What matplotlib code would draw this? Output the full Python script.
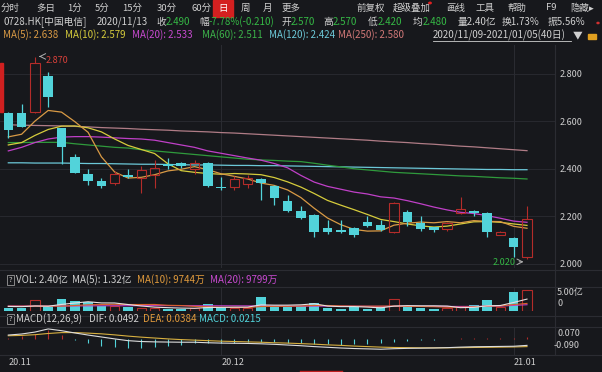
import matplotlib
matplotlib.use('Agg')
import matplotlib.pyplot as plt
from matplotlib.patches import Rectangle, Circle
from matplotlib.lines import Line2D
import numpy as np

plt.rcParams['font.family'] = ['Noto Sans CJK SC', 'DejaVu Sans']

# ---------------- data ----------------
opens = [2.636, 2.636, 2.640, 2.790, 2.570, 2.448, 2.378, 2.349, 2.340, 2.374,
         2.360, 2.375, 2.420, 2.423, 2.400, 2.423, 2.325, 2.325, 2.335, 2.357,
         2.328, 2.266, 2.224, 2.206, 2.153, 2.143, 2.150, 2.175, 2.164, 2.134,
         2.217, 2.174, 2.154, 2.145, 2.214, 2.222, 2.216, 2.122, 2.111, 2.030]
highs = [2.640, 2.672, 2.870, 2.808, 2.570, 2.462, 2.399, 2.360, 2.390, 2.400,
         2.410, 2.437, 2.445, 2.430, 2.435, 2.430, 2.367, 2.370, 2.375, 2.360,
         2.330, 2.290, 2.244, 2.210, 2.185, 2.185, 2.155, 2.203, 2.185, 2.260,
         2.227, 2.200, 2.156, 2.178, 2.283, 2.228, 2.220, 2.140, 2.115, 2.244]
lows = [2.530, 2.574, 2.636, 2.661, 2.420, 2.381, 2.332, 2.319, 2.330, 2.360,
        2.300, 2.320, 2.400, 2.405, 2.380, 2.325, 2.310, 2.310, 2.320, 2.269,
        2.248, 2.220, 2.190, 2.115, 2.126, 2.130, 2.113, 2.155, 2.140, 2.130,
        2.160, 2.140, 2.135, 2.140, 2.210, 2.200, 2.115, 2.120, 2.030, 2.020]
closes = [2.563, 2.574, 2.843, 2.700, 2.490, 2.381, 2.350, 2.328, 2.380, 2.367,
          2.395, 2.405, 2.410, 2.412, 2.425, 2.328, 2.318, 2.355, 2.360, 2.339,
          2.276, 2.224, 2.195, 2.136, 2.136, 2.134, 2.122, 2.161, 2.143, 2.256,
          2.175, 2.146, 2.143, 2.170, 2.231, 2.215, 2.133, 2.135, 2.073, 2.190]

ma5 = [2.534, 2.545, 2.600, 2.645, 2.638, 2.598, 2.553, 2.450, 2.386, 2.361,
       2.364, 2.375, 2.391, 2.398, 2.409, 2.396, 2.379, 2.368, 2.357, 2.340,
       2.330, 2.311, 2.279, 2.234, 2.193, 2.165, 2.145, 2.138, 2.139, 2.163,
       2.171, 2.176, 2.173, 2.178, 2.173, 2.182, 2.179, 2.178, 2.158, 2.150]
ma10 = [2.500, 2.510, 2.540, 2.565, 2.579, 2.580, 2.572, 2.555, 2.525, 2.498,
        2.481, 2.464, 2.421, 2.392, 2.385, 2.380, 2.377, 2.380, 2.378, 2.375,
        2.363, 2.345, 2.323, 2.296, 2.267, 2.247, 2.228, 2.208, 2.187, 2.178,
        2.168, 2.160, 2.155, 2.159, 2.168, 2.177, 2.178, 2.175, 2.168, 2.162]
ma20 = [2.475, 2.490, 2.510, 2.525, 2.533, 2.535, 2.535, 2.533, 2.530, 2.527,
        2.525, 2.520, 2.510, 2.500, 2.490, 2.475, 2.465, 2.455, 2.445, 2.436,
        2.422, 2.404, 2.372, 2.344, 2.326, 2.314, 2.302, 2.294, 2.282, 2.277,
        2.266, 2.253, 2.239, 2.227, 2.217, 2.212, 2.203, 2.192, 2.180, 2.175]
ma60 = [2.510, 2.510, 2.511, 2.511, 2.511, 2.505, 2.500, 2.495, 2.490, 2.487,
        2.480, 2.475, 2.470, 2.465, 2.460, 2.455, 2.450, 2.445, 2.440, 2.437,
        2.435, 2.432, 2.430, 2.423, 2.415, 2.408, 2.400, 2.395, 2.390, 2.385,
        2.382, 2.379, 2.376, 2.373, 2.370, 2.368, 2.365, 2.362, 2.360, 2.357]
ma120 = [2.425, 2.425, 2.424, 2.424, 2.424, 2.423, 2.422, 2.422, 2.421, 2.420,
         2.419, 2.419, 2.418, 2.417, 2.416, 2.416, 2.415, 2.414, 2.414, 2.413,
         2.413, 2.412, 2.411, 2.410, 2.409, 2.408, 2.407, 2.406, 2.405, 2.404,
         2.403, 2.402, 2.401, 2.400, 2.399, 2.398, 2.397, 2.397, 2.396, 2.396]
ma250 = [2.585, 2.583, 2.582, 2.581, 2.580, 2.578, 2.576, 2.573, 2.571, 2.569,
         2.566, 2.564, 2.562, 2.559, 2.557, 2.555, 2.552, 2.550, 2.547, 2.544,
         2.541, 2.538, 2.535, 2.532, 2.529, 2.526, 2.523, 2.520, 2.516, 2.513,
         2.510, 2.506, 2.503, 2.499, 2.495, 2.492, 2.488, 2.484, 2.480, 2.476]

vol = [0.55, 0.50, 2.20, 0.95, 2.40, 2.10, 1.90, 0.95, 0.90, 0.75,
       0.55, 0.60, 0.40, 0.45, 0.55, 1.36, 0.75, 0.60, 0.55, 2.95,
       1.09, 0.75, 0.95, 1.68, 0.50, 0.45, 0.82, 0.40, 0.82, 2.45,
       0.95, 0.61, 0.40, 0.55, 0.70, 1.29, 2.25, 0.80, 3.85, 4.35]
vol_ma5 = [0.90, 0.85, 1.00, 0.95, 1.32, 1.62, 1.89, 1.64, 1.63, 1.30,
           1.00, 0.75, 0.64, 0.55, 0.51, 0.67, 0.70, 0.74, 0.76, 1.22,
           1.17, 1.17, 1.24, 1.46, 0.98, 0.86, 0.87, 0.76, 0.60, 0.97,
           1.07, 1.03, 1.03, 0.98, 0.64, 0.71, 1.02, 1.10, 1.74, 2.45]
vol_ma10 = [0.95, 0.95, 0.96, 0.96, 0.97, 1.10, 1.25, 1.30, 1.35, 1.31,
            1.31, 1.32, 1.14, 1.09, 0.91, 0.84, 0.73, 0.70, 0.66, 0.87,
            0.92, 0.93, 0.99, 1.11, 1.10, 1.01, 0.97, 0.95, 0.97, 0.98,
            0.91, 0.89, 0.84, 0.73, 0.74, 0.83, 0.97, 1.01, 1.30, 1.54]
vol_ma20 = [0.98, 0.98, 0.98, 0.98, 0.98, 1.00, 1.02, 1.03, 1.04, 1.05,
            1.06, 1.07, 1.07, 1.06, 1.05, 1.05, 1.04, 1.03, 1.02, 1.00,
            0.98, 0.96, 0.95, 0.97, 0.97, 0.96, 0.95, 0.93, 0.92, 0.93,
            0.93, 0.93, 0.92, 0.90, 0.90, 0.91, 0.95, 0.97, 1.12, 1.26]

dif = [0.024, 0.030, 0.041, 0.059, 0.049, 0.036, 0.024, 0.013, 0.002, -0.008,
       -0.013, -0.015, -0.016, -0.017, -0.017, -0.020, -0.022, -0.023, -0.024, -0.026,
       -0.029, -0.033, -0.037, -0.042, -0.046, -0.050, -0.053, -0.055, -0.057, -0.054,
       -0.052, -0.051, -0.050, -0.048, -0.045, -0.043, -0.042, -0.041, -0.040, -0.035]
dea = [0.020, 0.022, 0.026, 0.033, 0.038, 0.038, 0.035, 0.031, 0.025, 0.018,
       0.012, 0.007, 0.002, -0.002, -0.005, -0.008, -0.011, -0.013, -0.015, -0.017,
       -0.020, -0.022, -0.025, -0.028, -0.032, -0.035, -0.039, -0.042, -0.045, -0.047,
       -0.048, -0.049, -0.049, -0.049, -0.048, -0.047, -0.046, -0.045, -0.044, -0.042]

date_ticks = [0, 16, 38]
date_labels = ['20.11', '20.12', '21.01']
price_ticks = [2.0, 2.2, 2.4, 2.6, 2.8]

# ---------------- style ----------------
W, H = 602, 372
def fx(x): return x / W
def fy(y): return 1 - y / H

bg = '#17181c'
grid_c = '#2b2c32'
txt = '#cfcfcf'
green = '#35b845'
red = '#b42c2a'
cyan = '#52d3da'
c5, c10, c20 = '#d99a45', '#d6cc3c', '#c040c8'
c60, c120, c250 = '#2f9a3c', '#6cc8d8', '#b07c86'
FS = 6.5
FS2 = 7.0

fig = plt.figure(figsize=(6.02, 3.72), dpi=100, facecolor=bg)
xl = (-8.3 / 13.3, (555 - 8.3) / 13.3)
x = np.arange(len(closes))
o, h, l, c = map(np.array, (opens, highs, lows, closes))
up = c >= o


def panel(top, bottom):
    a = fig.add_axes([0, fy(bottom), 555 / W, (bottom - top) / H])
    a.set_facecolor(bg)
    for s in a.spines.values():
        s.set_visible(False)
    a.set_xlim(*xl)
    a.tick_params(length=0, labelbottom=False, labelleft=False)
    for d in date_ticks[1:]:
        a.axvline(d, color=grid_c, lw=0.7, zorder=0)
    return a


# ---- main candlestick panel ----
ax = panel(45, 268)
ax.set_ylim(1.983, 2.920)
ax.set_yticks(price_ticks)
ax.yaxis.tick_right()
ax.set_yticklabels(['%.3f' % p for p in price_ticks], color=txt, fontsize=FS)
ax.tick_params(axis='y', labelright=True, pad=3)
ax.grid(axis='y', color=grid_c, lw=0.6)
ax.set_xticks([])

for arr, col in [(ma250, c250), (ma120, c120), (ma60, c60), (ma20, c20), (ma10, c10), (ma5, c5)]:
    ax.plot(x, arr, color=col, lw=0.9, zorder=2)

top = np.maximum(o, c)
bot = np.minimum(o, c)
body = np.maximum(top - bot, 0.004)
# wicks
ax.vlines(x[~up], l[~up], h[~up], color=cyan, lw=0.9, zorder=3)
ax.vlines(x[up], l[up], bot[up], color=red, lw=0.8, zorder=3)
ax.vlines(x[up], top[up], h[up], color=red, lw=0.8, zorder=3)
ax.bar(x[~up], body[~up], bottom=bot[~up], width=0.72, color=cyan, zorder=4)
ax.bar(x[up], body[up], bottom=bot[up], width=0.72, fill=False,
       edgecolor=red, lw=0.8, zorder=4)

ax.annotate('', xy=(2.1, 2.872), xytext=(2.6, 2.872),
            arrowprops=dict(arrowstyle='->', color='#b0b0b0', lw=0.7))
ax.text(2.8, 2.853, '2.870', color='#d8403a', fontsize=FS, va='center', ha='left')
ax.annotate('', xy=(38.95, 2.009), xytext=(38.2, 2.009),
            arrowprops=dict(arrowstyle='->', color='#b0b0b0', lw=0.7))
ax.text(38.15, 2.008, '2.020', color=green, fontsize=FS, va='center', ha='right')

# ---- volume panel ----
av = panel(287, 310.7)
av.set_ylim(0, 5.0)
av.bar(x[~up], np.array(vol)[~up], width=0.72, color=cyan, zorder=3)
av.bar(x[up], np.array(vol)[up], width=0.72, fill=False, edgecolor=red, lw=0.8, zorder=3)
av.plot(x, vol_ma20, color=c20, lw=0.8, zorder=4)
av.plot(x, vol_ma10, color='#d9602c', lw=0.8, zorder=4)
av.plot(x, vol_ma5, color='#e8e0e0', lw=0.8, zorder=4)

# ---- MACD panel ----
am = panel(327, 355)
am.set_ylim(-0.090, 0.070)
hist = 2 * (np.array(dif) - np.array(dea))
am.vlines(x, 0, hist, colors=[red if v > 0 else cyan for v in hist], lw=0.8)
am.plot(x, dea, color='#d8b040', lw=0.8)
am.plot(x, dif, color='#dcdcdc', lw=0.8)
am.set_xticks(date_ticks)
am.set_xticklabels(date_labels, color=txt, fontsize=FS, ha='left')
am.tick_params(axis='x', labelbottom=True, pad=2)

# ---- frame lines ----
for yy in [270, 287, 315.7, 327, 355]:
    fig.add_artist(Line2D([0, 1], [fy(yy), fy(yy)], color=grid_c, lw=0.8))
fig.add_artist(Line2D([fx(555), fx(555)], [fy(45), fy(355)], color=grid_c, lw=0.8))
fig.add_artist(Rectangle((0, fy(112)), fx(2.7), 49 / H, color='#d02020'))
fig.add_artist(Line2D([fx(300), fx(342)], [fy(371.3), fy(371.3)], color='#c02020', lw=1.0))

# right panel labels
for xx, yy, s in [(557, 293, '5.00亿'), (557, 304, '0'), (557, 334, '0.070'), (554, 345.7, '-0.090')]:
    fig.text(fx(xx), fy(yy), s, color=txt, fontsize=FS, va='center', ha='left')

# ---- toolbar ----
fig.add_artist(Rectangle((fx(213), fy(17)), fx(20), 17 / H, color='#d42020'))
tabs = [('分时', 10), ('多日', 46), ('1分', 75), ('5分', 102), ('15分', 132), ('30分', 167),
        ('60分', 202), ('日', 223), ('周', 245), ('月', 267), ('更多', 291),
        ('前复权', 371), ('超级叠加', 412), ('画线', 456), ('工具', 485), ('帮助', 517),
        ('F9', 551), ('隐藏▸', 582)]
for s, xx in tabs:
    fig.text(fx(xx), fy(8), s, color='#ffffff' if s == '日' else txt,
             fontsize=6.8, ha='center', va='center')
fig.add_artist(Circle((fx(430), fy(3)), 1.2 / W, color='#e02020'))

# ---- quote row ----
row2 = [(3, '0728.HK[中国电信]', txt), (97, '2020/11/13', txt), (156, '收', txt),
        (166, '2.490', green), (199, '幅', txt), (209, '-7.78%(-0.210)', green),
        (281, '开', txt), (291, '2.570', green), (323, '高', txt), (333, '2.570', green),
        (368, '低', txt), (378, '2.420', green), (413, '均', txt), (423, '2.480', green),
        (458, '量2.40亿', txt), (502, '换1.73%', txt), (548, '振5.56%', txt)]
for xx, s, col in row2:
    fig.text(fx(xx), fy(22), s, color=col, fontsize=FS2, ha='left', va='center')
fig.add_artist(Circle((fx(598), fy(23)), 1.0 / W, color='#d03030'))

row3 = [(3, 'MA(5): 2.638', c5), (65, 'MA(10): 2.579', c10), (132, 'MA(20): 2.533', '#c84ad0'),
        (202, 'MA(60): 2.511', '#3cb44a'), (269, 'MA(120): 2.424', c120),
        (338, 'MA(250): 2.580', '#d27878'), (433, '2020/11/09-2021/01/05(40日)', txt),
        (573, '▼', txt)]
for xx, s, col in row3:
    fig.text(fx(xx), fy(35), s, color=col, fontsize=FS2, ha='left', va='center')
fig.add_artist(Line2D([fx(433), fx(571)], [fy(41), fy(41)], color=txt, lw=0.6))
fig.add_artist(Rectangle((fx(588), fy(39)), fx(8), 5 / H, color='#e0a020'))

# ---- sub panel headers ----
for yy in [280, 319]:
    fig.add_artist(Rectangle((fx(7), fy(yy + 5)), fx(6.5), 10 / H, fill=False,
                             edgecolor='#9a9a9a', lw=0.6))
    fig.text(fx(10.2), fy(yy), '?', color=txt, fontsize=5.5, ha='center', va='center')
hdr = [(16, 280, 'VOL: 2.40亿', txt), (72, 280, 'MA(5): 1.32亿', txt),
       (137, 280, 'MA(10): 9744万', '#e09a3c'), (210, 280, 'MA(20): 9799万', '#c84ad0'),
       (16, 319, 'MACD(12,26,9)', txt), (89, 319, 'DIF: 0.0492', txt),
       (143, 319, 'DEA: 0.0384', '#e09a3c'), (199, 319, 'MACD: 0.0215', cyan)]
for xx, yy, s, col in hdr:
    fig.text(fx(xx), fy(yy), s, color=col, fontsize=FS2, ha='left', va='center')

fig.savefig('out.png', dpi=100, facecolor=bg)
